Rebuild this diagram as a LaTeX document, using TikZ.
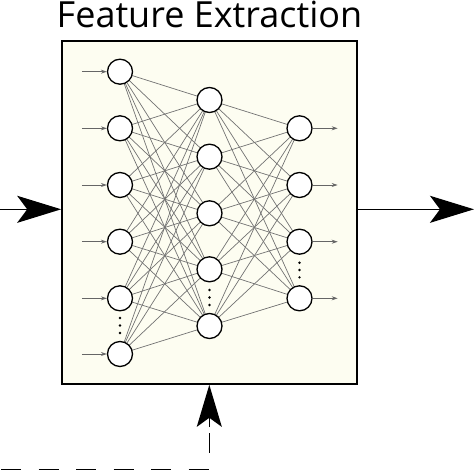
\documentclass[tikz,border=0pt]{standalone}
\usepackage{fontspec}
\setmainfont{Open Sans}
\usetikzlibrary{arrows.meta}
\definecolor{boxfill}{rgb}{0.992,0.992,0.945}
\tikzset{
  neuron/.style={circle,draw=black,line width=1.3pt,fill=white,minimum size=25pt,inner sep=0pt},
  conn/.style={draw=black!55,line width=0.7pt},
  feed/.style={draw=black!60,line width=0.8pt,-{Stealth[length=6pt,width=4pt]}},
  bigarrow/.style={draw=black,line width=1.6pt,-{Stealth[length=44pt,width=27pt,inset=10pt]}},
  vdots/.style={circle,fill=black,inner sep=0pt,minimum size=2.6pt},
}
\begin{document}
\begin{tikzpicture}[x=1pt,y=-1pt]
\useasboundingbox (0,0) rectangle (474,474);
\node[font=\fontsize{36}{40}\selectfont,anchor=base] (title) at (209.5,27) {Feature Extraction};
\node[draw=black,line width=1.6pt,fill=boxfill,minimum width=295pt,minimum height=343pt,inner sep=0pt] (box) at (209.5,212.5) {};
% connections (drawn first, neurons on top)
\foreach \y [count=\i] in {71.7,128.3,185,241.7,298.3,354}
  \coordinate (ci\i) at (120,\y);
\foreach \y [count=\i] in {100,156.7,213.3,269.3,326}
  \coordinate (ch\i) at (209.5,\y);
\foreach \y [count=\i] in {128.3,185,241.7,298.3}
  \coordinate (co\i) at (299.5,\y);
\foreach \i in {1,...,6}
  \foreach \j in {1,...,5}
    \draw[conn] (ci\i) -- (ch\j);
\foreach \i in {1,...,5}
  \foreach \j in {1,...,4}
    \draw[conn] (ch\i) -- (co\j);
% neurons
\foreach \i in {1,...,6}
  \node[neuron] (i\i) at (ci\i) {};
\foreach \i in {1,...,5}
  \node[neuron] (h\i) at (ch\i) {};
\foreach \i in {1,...,4}
  \node[neuron] (o\i) at (co\i) {};
% input/output feeds
\foreach \i in {1,...,6} {
  \coordinate (fi\i) at ([xshift=-25pt]i\i.west);
  \draw[feed] (fi\i) -- (i\i.west);
}
\foreach \i in {1,...,4} {
  \coordinate (fo\i) at ([xshift=25pt]o\i.east);
  \draw[feed] (o\i.east) -- (fo\i);
}
% dots
\foreach \y in {318,325.5,333} \node[vdots] at (120,\y) {};
\foreach \y in {290,297.5,305} \node[vdots] at (209.5,\y) {};
\foreach \y in {262.7,270,277.3} \node[vdots] at (299.5,\y) {};
% big arrows
\coordinate (lin) at (0,209.3);
\coordinate (rout) at (474,209.3);
\draw[bigarrow] (lin) -- (box.west |- lin);
\draw[bigarrow] (box.east |- rout) -- (rout);
% bottom dashed input
\coordinate (dstart) at (1,469.3);
\coordinate (dcorner) at (209.3,469.3);
\coordinate (dend) at (209.3,431);
\draw[black,line width=1.6pt,dash pattern=on 20pt off 17.5pt] (dstart) -- (dcorner) -- (dend);
\coordinate (atail) at (209.3,427);
\draw[black,line width=1.6pt,-{Stealth[length=42pt,width=25pt,inset=9pt]}] (atail) -- (box.south -| atail);
\end{tikzpicture}
\end{document}
